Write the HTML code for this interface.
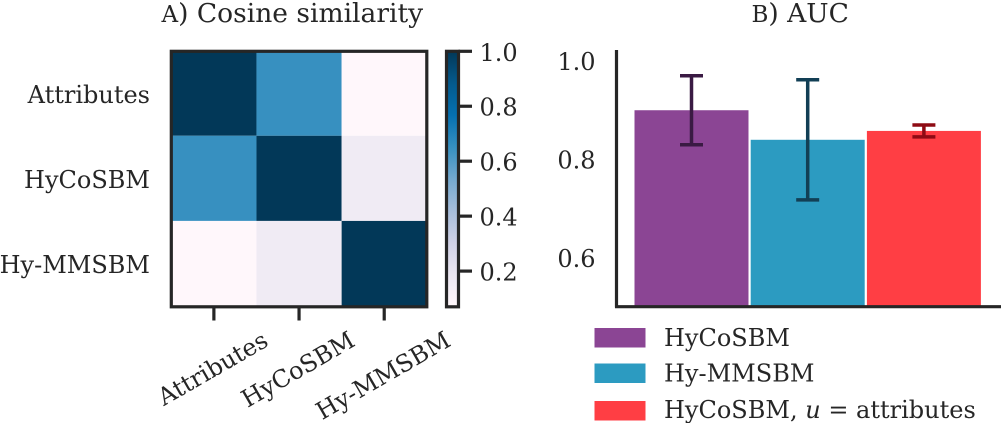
<!DOCTYPE html>
<html>
<head>
<meta charset="utf-8">
<style>
html,body{margin:0;padding:0;background:#fff;width:1001px;height:423px;overflow:hidden}
svg{display:block}
text{font-family:"DejaVu Serif","Liberation Serif",serif;fill:#262626;font-size:24px}
</style>
</head>
<body>
<svg id="fig" width="1001" height="423" viewBox="0 0 1001 423" xmlns="http://www.w3.org/2000/svg">
  <defs>
    <linearGradient id="cbgrad" x1="0" y1="1" x2="0" y2="0"></linearGradient>
  </defs>
  <text x="161.5" y="22" style="font-size:26.5px"><tspan style="font-size:23px">A</tspan>) Cosine similarity</text>
  <text x="751.5" y="22" style="font-size:26.5px"><tspan style="font-size:23px">B</tspan>) AUC</text>
  <g id="heatmap"></g>
  <g id="colorbar"></g>
  <g id="bars"></g>
  <g>
    <rect x="594.5" y="328" width="51" height="19.5" fill="#8b4594"/>
    <text x="664" y="346">HyCoSBM</text>
    <rect x="594.5" y="363.5" width="51" height="19.5" fill="#2c9bc1"/>
    <text x="664" y="381.5">Hy-MMSBM</text>
    <rect x="594.5" y="401" width="51" height="19.5" fill="#ff3e44"/>
    <text x="664" y="418">HyCoSBM, <tspan font-style="italic">u</tspan> = attributes</text>
  </g>
</svg>
<script>
const matrixLabels = ["Attributes", "HyCoSBM", "Hy-MMSBM"];
const row0 = [1.0, 0.65, 0.07];
const row1 = [0.65, 1.0, 0.16];
const row2 = [0.07, 0.16, 1.0];
const colorbarTicks = [0.2, 0.4, 0.6, 0.8, 1.0];
const barNames = ["HyCoSBM", "Hy-MMSBM", "HyCoSBM, u = attributes"];
const barValues = [0.898, 0.838, 0.856];
const barErrors = [0.070, 0.122, 0.012];
const barTicks = [0.6, 0.8, 1.0];
const barColors = ["#8b4594", "#2c9bc1", "#ff3e44"];
const errColors = ["#3a1a43", "#123f55", "#8e0b14"];
const paletteStops = ["#fff7fb","#ece7f2","#d0d1e6","#a6bddb","#74a9cf","#3690c0","#0570b0","#045a8d","#023858"];

const NS = "http://www.w3.org/2000/svg";
const INK = "#262626";
function mk(parent, tag, attrs) {
  const el = document.createElementNS(NS, tag);
  for (const k in attrs) el.setAttribute(k, attrs[k]);
  parent.appendChild(el);
  return el;
}
function hexRgb(h) { return [1,3,5].map(i => parseInt(h.substr(i,2),16)); }
const vMin = 0.07, vMax = 1.0;
function colorOf(v) {
  const t = Math.max(0, Math.min(1, (v - vMin) / (vMax - vMin))) * (paletteStops.length - 1);
  const i = Math.min(paletteStops.length - 2, Math.floor(t));
  const a = hexRgb(paletteStops[i]), b = hexRgb(paletteStops[i+1]), f = t - i;
  return "rgb(" + a.map((c,j) => Math.round(c + (b[j]-c)*f)).join(",") + ")";
}

/* heatmap */
const hm = document.getElementById("heatmap");
const hmL = 171.3, hmR = 426.8, hmT = 51.3, hmB = 306.8;
const hmX = i => hmL + (hmR - hmL) * i / matrixLabels.length;
const hmY = i => hmT + (hmB - hmT) * i / matrixLabels.length;
[row0, row1, row2].forEach((row, r) => {
  row.forEach((v, c) => {
    const cell = mk(hm, "rect", {x: hmX(c), y: hmY(r) - 0.7, width: hmX(c+1)-hmX(c), height: hmY(r+1)-hmY(r), fill: colorOf(v)});
    
    
  });
});
const hmFrame = mk(hm, "rect", {x: hmL, y: hmT, width: hmR-hmL, height: hmB-hmT, fill: "none", stroke: INK, "stroke-width": 3.2});


matrixLabels.forEach((name, i) => {
  const yl = mk(hm, "text", {x: 150, y: (hmY(i)+hmY(i+1))/2 + 9, "text-anchor": "end"});
  yl.textContent = name;
  
  
  const cx = (hmX(i)+hmX(i+1))/2;
  const tick = mk(hm, "line", {x1: cx, x2: cx, y1: hmB, y2: 320.5, stroke: INK, "stroke-width": 3.2});
  
  
  const xl = mk(hm, "text", {x: cx - 0.5, y: 0, "text-anchor": "middle"});
  xl.textContent = name;
  
  
  const w = xl.getComputedTextLength();
  const h = w * 0.5 + 24 * 1.1 * 0.866;
  const cy = 327.5 + h / 2;
  xl.setAttribute("y", cy + 7);
  xl.setAttribute("transform", "rotate(-30 " + (cx - 0.5) + " " + cy + ")");
});

/* colorbar */
const cb = document.getElementById("colorbar");
const grad = document.getElementById("cbgrad");
paletteStops.forEach((c, i) => {
  mk(grad, "stop", {offset: i / (paletteStops.length - 1), "stop-color": c});
});
const cbL = 446.5, cbR = 458.5, cbT = 51.3, cbB = 306.8;
const cbY = v => cbB - (v - vMin) / (vMax - vMin) * (cbB - cbT);
const cbFill = mk(cb, "rect", {x: cbL, y: cbT, width: cbR-cbL, height: cbB-cbT, fill: "url(#cbgrad)", stroke: INK, "stroke-width": 3.2});


colorbarTicks.forEach(v => {
  const t = mk(cb, "line", {x1: cbR, x2: 472, y1: cbY(v), y2: cbY(v), stroke: INK, "stroke-width": 3.2});
  
  
  const l = mk(cb, "text", {x: 479.5, y: cbY(v) + 9.5});
  l.textContent = v.toFixed(1);
  
  
});

/* bar chart */
const bc = document.getElementById("bars");
const barY = v => 60 + (1 - v) * 492.5;
const barBase = 0.5;
const barX = i => 634.5 + i * 116.2;
const barW = 114;
barValues.forEach((v, i) => {
  const b = mk(bc, "rect", {x: barX(i), y: barY(v), width: barW, height: barY(barBase)-barY(v), fill: barColors[i]});
  
  
});
barValues.forEach((v, i) => {
  const cx = barX(i) + barW/2, e = barErrors[i], col = errColors[i];
  const s = mk(bc, "line", {x1: cx, x2: cx, y1: barY(v+e), y2: barY(v-e), stroke: col, "stroke-width": 3.5});
  
  
  [v+e, v-e].forEach(w => {
    const cap = mk(bc, "line", {x1: cx-11.5, x2: cx+11.5, y1: barY(w), y2: barY(w), stroke: col, "stroke-width": 3.5});
    
    
  });
});
const yAxis = mk(bc, "line", {x1: 616.5, x2: 616.5, y1: 50, y2: 307.5, stroke: INK, "stroke-width": 3.2});


const xAxis = mk(bc, "line", {x1: 615, x2: 1001, y1: 306.7, y2: 306.7, stroke: INK, "stroke-width": 3.2});


barTicks.forEach(v => {
  const l = mk(bc, "text", {x: 595.5, y: barY(v) + 10, "text-anchor": "end"});
  l.textContent = v.toFixed(1);
  
  
});
</script>
</body>
</html>
